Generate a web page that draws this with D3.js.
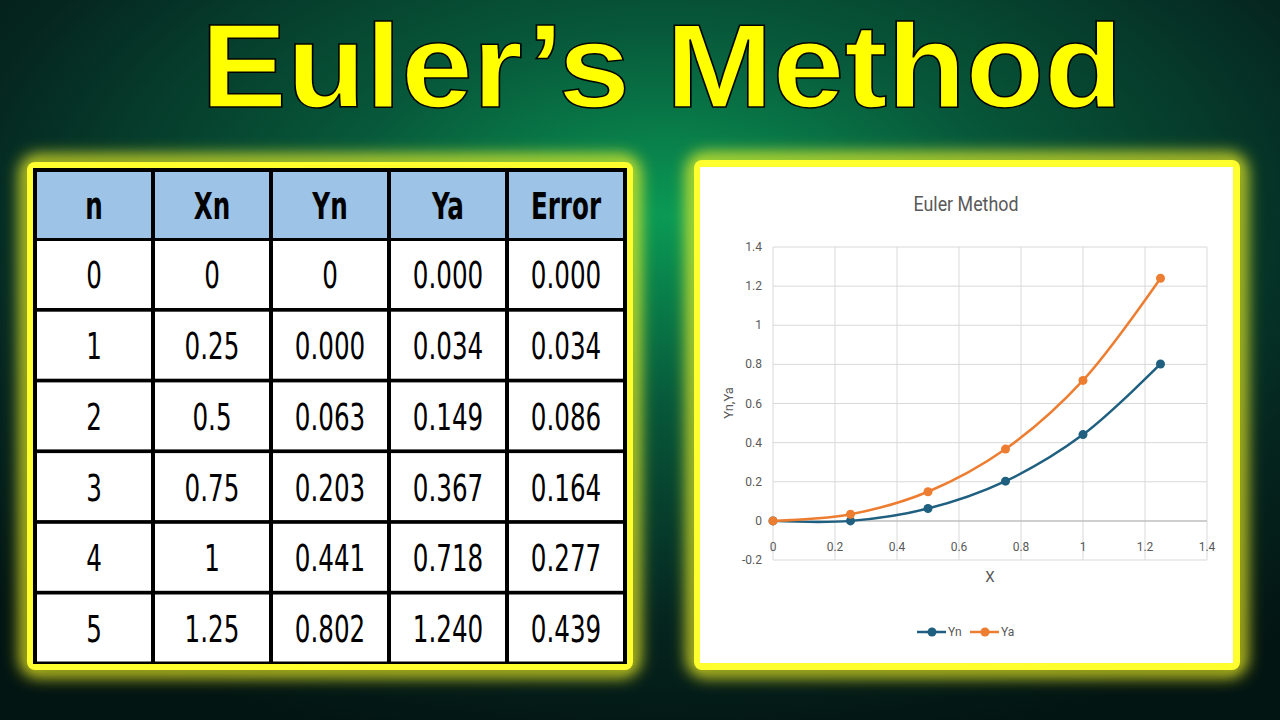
<!DOCTYPE html>
<html><head><meta charset="utf-8">
<script src="https://cdn.jsdelivr.net/npm/d3@7"></script>
<style>body{margin:0;background:#000}svg{display:block}</style>
</head><body>
<svg id="c" width="1280" height="720"></svg>
<script>
const headers = ["n","Xn","Yn","Ya","Error"];
const nVals = ["0","1","2","3","4","5"];
const xnLabels = ["0","0.25","0.5","0.75","1","1.25"];
const ynLabels = ["0","0.000","0.063","0.203","0.441","0.802"];
const yaLabels = ["0.000","0.034","0.149","0.367","0.718","1.240"];
const errLabels = ["0.000","0.034","0.086","0.164","0.277","0.439"];
const xVals = [0,0.25,0.5,0.75,1,1.25];
const ynVals = [0,0.000,0.063,0.203,0.441,0.802];
const yaVals = [0,0.034,0.149,0.367,0.718,1.240];
const xTicks = [0,0.2,0.4,0.6,0.8,1,1.2,1.4];
const yTicks = [-0.2,0,0.2,0.4,0.6,0.8,1,1.2,1.4];

const svg = d3.select("#c");
const defs = svg.append("defs");
const rg = defs.append("radialGradient").attr("id","bg").attr("cx","0.52").attr("cy","0.3").attr("r","0.75");
rg.append("stop").attr("offset","0").attr("stop-color","#0a9a55");
rg.append("stop").attr("offset","0.35").attr("stop-color","#07583a");
rg.append("stop").attr("offset","0.75").attr("stop-color","#05251f");
rg.append("stop").attr("offset","1").attr("stop-color","#031512");
svg.append("rect").attr("width",1280).attr("height",720).attr("fill","url(#bg)");
const glow = defs.append("filter").attr("id","glow").attr("x","-20%").attr("y","-20%").attr("width","140%").attr("height","140%");
glow.append("feGaussianBlur").attr("stdDeviation",8);

svg.append("text").attr("x",662).attr("y",107).attr("text-anchor","middle")
  .attr("transform","translate(662,0) scale(1.09,1) translate(-662,0)")
  .attr("font-family","Liberation Sans, Arial").attr("font-weight","bold").attr("font-size",118)
  .attr("fill","#ffff00").attr("stroke","#000").attr("stroke-width",1.5).text("Euler’s Method");

[[27,162,606,508],[694,160,546,510]].forEach(([x,y,w,h])=>{
  svg.append("rect").attr("x",x).attr("y",y).attr("width",w).attr("height",h).attr("rx",10)
    .attr("fill","none").attr("stroke","#ffff20").attr("stroke-width",12).attr("filter","url(#glow)");
  svg.append("rect").attr("x",x).attr("y",y).attr("width",w).attr("height",h).attr("rx",8)
    .attr("fill","#ffff30");
});

const colX = d3.scaleBand().domain(d3.range(5)).range([35,625]);
const rowY = d => d===0 ? 170 : 239 + (d-1)*70.7;
const tb = svg.append("g");
tb.append("rect").attr("x",33).attr("y",168).attr("width",594).attr("height",496).attr("fill","#000");
const rows = [headers].concat(d3.range(6).map(i=>[nVals[i],xnLabels[i],ynLabels[i],yaLabels[i],errLabels[i]]));
rows.forEach((r,ri)=>{
  const y0 = rowY(ri), h = ri===0 ? 66 : 67;
  r.forEach((t,ci)=>{
    const cx = colX(ci)+colX.bandwidth()/2;
    tb.append("rect").attr("x",colX(ci)+2).attr("y",y0+2).attr("width",colX.bandwidth()-4).attr("height",h)
      .attr("fill", ri===0 ? "#9dc3e6" : "#fff");
    tb.append("text").attr("x",cx).attr("y",y0+2+h/2+14)
      .attr("text-anchor","middle").attr("font-family","DejaVu Sans Condensed, DejaVu Sans")
      .attr("font-size",38).attr("font-weight", ri===0?"bold":"normal").attr("fill","#000")
      .attr("transform",`translate(${cx},0) scale(0.72,1) translate(${-cx},0)`)
      .text(t);
  });
});

svg.append("rect").attr("x",700).attr("y",167).attr("width",533).attr("height",496).attr("fill","#fff");
const x = d3.scaleLinear().domain([0,1.4]).range([773,1207]);
const y = d3.scaleLinear().domain([-0.2,1.4]).range([560,247]);
const ch = svg.append("g").attr("font-family","Roboto, Liberation Sans").attr("fill","#595959");
xTicks.forEach(t=>ch.append("line").attr("x1",x(t)).attr("x2",x(t)).attr("y1",y(-0.2)).attr("y2",y(1.4)).attr("stroke","#d9d9d9"));
yTicks.forEach(t=>ch.append("line").attr("x1",x(0)).attr("x2",x(1.4)).attr("y1",y(t)).attr("y2",y(t)).attr("stroke", t===0?"#bfbfbf":"#d9d9d9").attr("stroke-width", t===0?1.5:1));
yTicks.forEach(t=>ch.append("text").attr("x",762).attr("y",y(t)+4).attr("text-anchor","end").attr("font-size",12).attr("fill","#595959").text(t));
xTicks.forEach(t=>ch.append("text").attr("x",x(t)).attr("y",y(0)+30).attr("text-anchor","middle").attr("font-size",12).attr("fill","#595959").text(t));
ch.append("text").attr("x",966).attr("y",211).attr("text-anchor","middle").attr("font-size",21).attr("fill","#595959").attr("transform","translate(966,0) scale(0.85,1) translate(-966,0)").text("Euler Method");
ch.append("text").attr("x",990).attr("y",582).attr("text-anchor","middle").attr("font-size",15).attr("fill","#595959").text("X");
ch.append("text").attr("transform","translate(733,403) rotate(-90)").attr("text-anchor","middle").attr("font-size",13).attr("fill","#595959").text("Yn,Ya");

const line = d3.line().x(d=>x(d[0])).y(d=>y(d[1])).curve(d3.curveCatmullRom.alpha(0.5));
[[ynVals,"#1f5f7f"],[yaVals,"#ed7d31"]].forEach(([vals,col])=>{
  const pts = xVals.map((v,i)=>[v,vals[i]]);
  ch.append("path").attr("d",line(pts)).attr("fill","none").attr("stroke",col).attr("stroke-width",2.5);
  pts.forEach(p=>ch.append("circle").attr("cx",x(p[0])).attr("cy",y(p[1])).attr("r",4.5).attr("fill",col));
});
[["Yn","#1f5f7f",917],["Ya","#ed7d31",970]].forEach(([t,c,lx])=>{
  ch.append("line").attr("x1",lx).attr("x2",lx+29).attr("y1",632).attr("y2",632).attr("stroke",c).attr("stroke-width",2.5);
  ch.append("circle").attr("cx",lx+15).attr("cy",632).attr("r",4.5).attr("fill",c);
  ch.append("text").attr("x",lx+31).attr("y",636).attr("font-size",12).attr("fill","#595959").text(t);
});
</script>
</body></html>
